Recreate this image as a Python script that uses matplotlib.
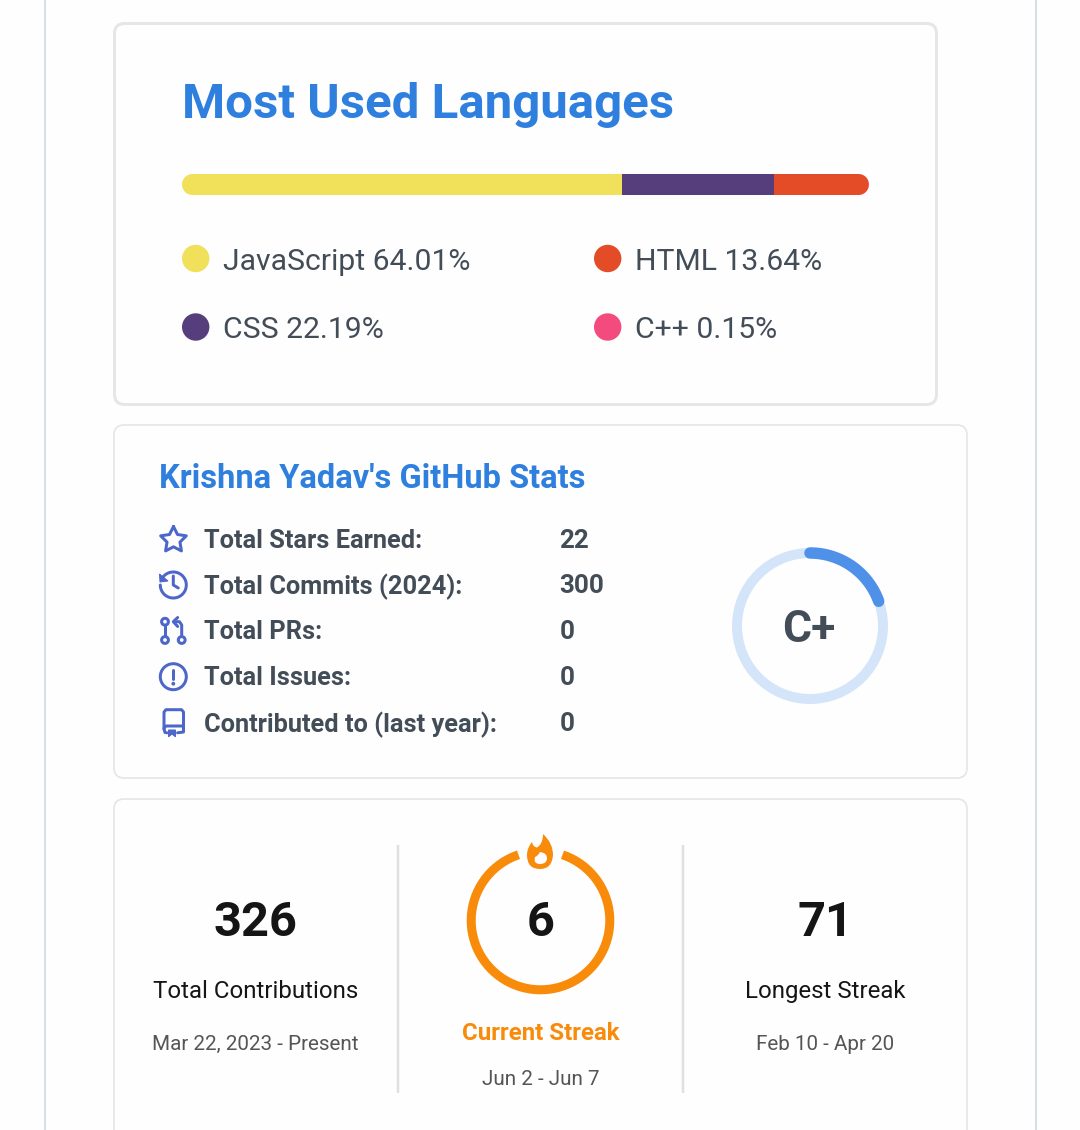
import numpy as np
import matplotlib
matplotlib.use("Agg")
import matplotlib.pyplot as plt
from matplotlib.patches import FancyBboxPatch, Circle, PathPatch, Polygon
from matplotlib.path import Path

plt.rcParams['font.family'] = ['Roboto', 'DejaVu Sans']

# ---- data ----
lang_names = ["JavaScript", "CSS", "HTML", "C++"]
lang_values = [64.01, 22.19, 13.64, 0.15]
lang_colors = ["#F1E05A", "#563D7C", "#E34C26", "#F34B7D"]
stat_labels = ["Total Stars Earned:", "Total Commits (2024):", "Total PRs:", "Total Issues:", "Contributed to (last year):"]
stat_values = [22, 300, 0, 0, 0]
rank_label = "C+"
rank_progress = 0.195
streak_values = ["326", "6", "71"]
streak_labels = ["Total Contributions", "Current Streak", "Longest Streak"]
streak_dates = ["Mar 22, 2023 - Present", "Jun 2 - Jun 7", "Feb 10 - Apr 20"]

W, H = 1080, 1130
PX = 0.72
BLUE = "#2F80DE"
DARK = "#434D58"
ICON = "#4C67C9"
ORANGE = "#F98B0B"
BLACK = "#151515"

fig = plt.figure(figsize=(W/100, H/100), dpi=100, facecolor="#FEFEFE")
ax = fig.add_axes([0, 0, 1, 1])
ax.set_xlim(0, W); ax.set_ylim(H, 0); ax.axis("off")

def card(x0, y0, x1, y1, lw, col, r=10):
    ax.add_patch(FancyBboxPatch((x0+r, y0+r), x1-x0-2*r, y1-y0-2*r,
                 boxstyle=f"round,pad={r},rounding_size={r}", fc="#FEFEFE", ec=col, lw=lw*PX, zorder=1))

ax.plot([45, 45], [0, H], color="#D9DEE3", lw=2*PX, zorder=0)
ax.plot([1036, 1036], [0, H], color="#D9DEE3", lw=2*PX, zorder=0)
card(114.5, 23.5, 936.5, 404.5, 3, "#E6E6E6")
card(114, 425, 967, 778, 1.7, "#E6E6E6")
card(114, 799, 967, 1150, 1.7, "#E6E6E6")

def T(x, y, s, size, col, weight=400, ha="left"):
    return ax.text(x, y, s, fontsize=size*PX, color=col, fontweight=weight, ha=ha, va="center_baseline", zorder=5)

# languages card
T(182, 100, "Most Used Languages", 49.3, BLUE, 700)
bar_ax = fig.add_axes([182/W, 1-195/H, 687/W, 21/H])
bar_ax.set_xlim(0, sum(lang_values)); bar_ax.set_ylim(0, 1); bar_ax.axis("off")
bar_ax.patch.set_alpha(0)
left = 0
rects = []
for v, c in zip(lang_values, lang_colors):
    rects += list(bar_ax.barh(0.5, v, left=left, height=1, color=c, lw=0))
    left += v
ta = np.deg2rad(np.linspace(90, 270, 30))
pill_xy = np.r_[np.c_[192.5 + 10.5*np.cos(ta), 184.5 + 10.5*np.sin(ta)],
                np.c_[858.5 - 10.5*np.cos(ta), 184.5 - 10.5*np.sin(ta)]]
pill = Polygon(pill_xy, closed=True, transform=ax.transData, fc="none", ec="none")
ax.add_patch(pill)
for r in rects:
    r.set_clip_path(pill)

pos = [(182, 258.5), (182, 327), (594, 258.5), (594, 327)]
for (x, y), n, v, c in zip(pos, lang_names, lang_values, lang_colors):
    ax.add_patch(Circle((x+13.7, y), 13.7, fc=c, ec="none", zorder=5))
    T(x+41, y, f"{n} {v:.2f}%", 30.1, DARK)

# stats card
T(159, 476, "Krishna Yadav's GitHub Stats", 32.7, BLUE, 700)
rows = [538.3, 583.5, 629.5, 675.5, 721.5]
for y, l, v in zip(rows, stat_labels, stat_values):
    T(204.5, y, l, 25.4, DARK, 700)
    T(559.5, y, str(v), 26, DARK, 700)

ilw = 3*PX
def L(xs, ys, lw=ilw):
    ax.plot(xs, ys, color=ICON, lw=lw, solid_capstyle="round", solid_joinstyle="round", zorder=5)
def C(x, y, r, lw=ilw):
    ax.add_patch(Circle((x, y), r, fc="none", ec=ICON, lw=lw, zorder=5))

# star
cx, cy = 173.5, 539
ang = np.deg2rad(np.arange(-90, 270, 36))
rad = np.where(np.arange(10) % 2 == 0, 13.5, 6.8)
sx = cx + rad*np.cos(ang); sy = cy + 1 + rad*np.sin(ang)
L(np.r_[sx, sx[0]], np.r_[sy, sy[0]])
# history clock
cx, cy = 173.3, 585
t = np.deg2rad(np.linspace(-150, 180, 60))
L(cx + 13*np.cos(t), cy + 13*np.sin(t))
ax.add_patch(Polygon([(159.5, 574), (160, 582), (168, 581)], fc=ICON, ec=ICON, lw=PX, zorder=5))
L([cx, cx, cx+5], [cy-9, cy, cy+3])
# pull request
C(165, 621.7, 3.4); C(165, 640, 3.4); C(181.7, 640, 3.4)
L([165, 165], [626, 635.5])
L([181.7, 181.7, 179.5, 174], [635.5, 625, 621.7, 621.7])
L([177.7, 173.3, 177.7], [617.5, 621.7, 626.5])
# issue
cx, cy = 173.3, 676.7
C(cx, cy, 13)
L([cx, cx], [cy-6.5, cy+2])
ax.add_patch(Circle((cx, cy+7), 1.9, fc=ICON, ec="none", zorder=5))
# repo
L([164, 164, 166, 181.5, 183.5, 183.5, 177.5],
  [729, 712, 709.7, 709.7, 712, 732, 732.8])
L([164, 166, 183.5], [728, 726, 726])
L([164, 165, 167], [729, 732.5, 732.8])
ax.add_patch(Polygon([(168.5, 730), (175.5, 730), (175.5, 736.8), (172, 734), (168.5, 736.8)], fc=ICON, ec=ICON, lw=PX, zorder=5))

# rank ring
rx, ry, rr = 810, 626, 73
ax.add_patch(Circle((rx, ry), rr, fc="none", ec="#D5E5F9", lw=10*PX, zorder=4))
t = np.deg2rad(np.linspace(-90, -90 + 360*rank_progress, 80))
ax.plot(rx + rr*np.cos(t), ry + rr*np.sin(t), color="#4F91E9", lw=11.5*PX, solid_capstyle="round", zorder=5)
T(809, 625, rank_label, 44.5, DARK, 700, ha="center")

# streak card
ax.plot([398, 398], [845, 1093], color="#E0E0E0", lw=2.5*PX, zorder=3, solid_capstyle="butt")
ax.plot([683, 683], [845, 1093], color="#E0E0E0", lw=2.5*PX, zorder=3, solid_capstyle="butt")
xs = [255.5, 540.5, 825.5]
for x, s in zip(xs, streak_values):
    T(x, 918.5, s, 48.8, BLACK, 700, ha="center")
T(xs[0], 989, streak_labels[0], 24, BLACK, ha="center")
T(xs[1], 1031, streak_labels[1], 24, ORANGE, 700, ha="center")
T(xs[2], 989, streak_labels[2], 24, BLACK, ha="center")
T(xs[0], 1042.5, streak_dates[0], 20.6, "#555555", ha="center")
T(xs[1], 1077.5, streak_dates[1], 20.6, "#555555", ha="center")
T(xs[2], 1042.5, streak_dates[2], 20.6, "#555555", ha="center")

# streak ring
t = np.deg2rad(np.linspace(-90 + 18.5, -90 + 341.5, 160))
ax.plot(540.5 + 69.3*np.cos(t), 920.5 + 69.3*np.sin(t), color=ORANGE, lw=9*PX, solid_capstyle="butt", zorder=5)
# flame
M, C3, Z = Path.MOVETO, Path.CURVE3, Path.CLOSEPOLY
outer = [(532, 842), (533, 847), (537, 847.5), (543, 844), (543, 834), (553, 843), (553, 855),
         (552, 869), (540, 869), (527, 869), (527, 855), (527, 848), (532, 842), (532, 842)]
ocodes = [M, C3, C3, C3, C3, C3, C3, C3, C3, C3, C3, C3, C3, Z]
inner = [(540, 852), (538, 856), (535, 857), (533, 864), (540, 864), (547, 864), (547, 858), (547, 853), (540, 852), (540, 852)]
icodes = [M, C3, C3, C3, C3, C3, C3, C3, C3, Z]
ax.add_patch(PathPatch(Path(outer + inner, ocodes + icodes), fc=ORANGE, ec="none", zorder=6))

fig.savefig("out.png", dpi=100, facecolor=fig.get_facecolor())
